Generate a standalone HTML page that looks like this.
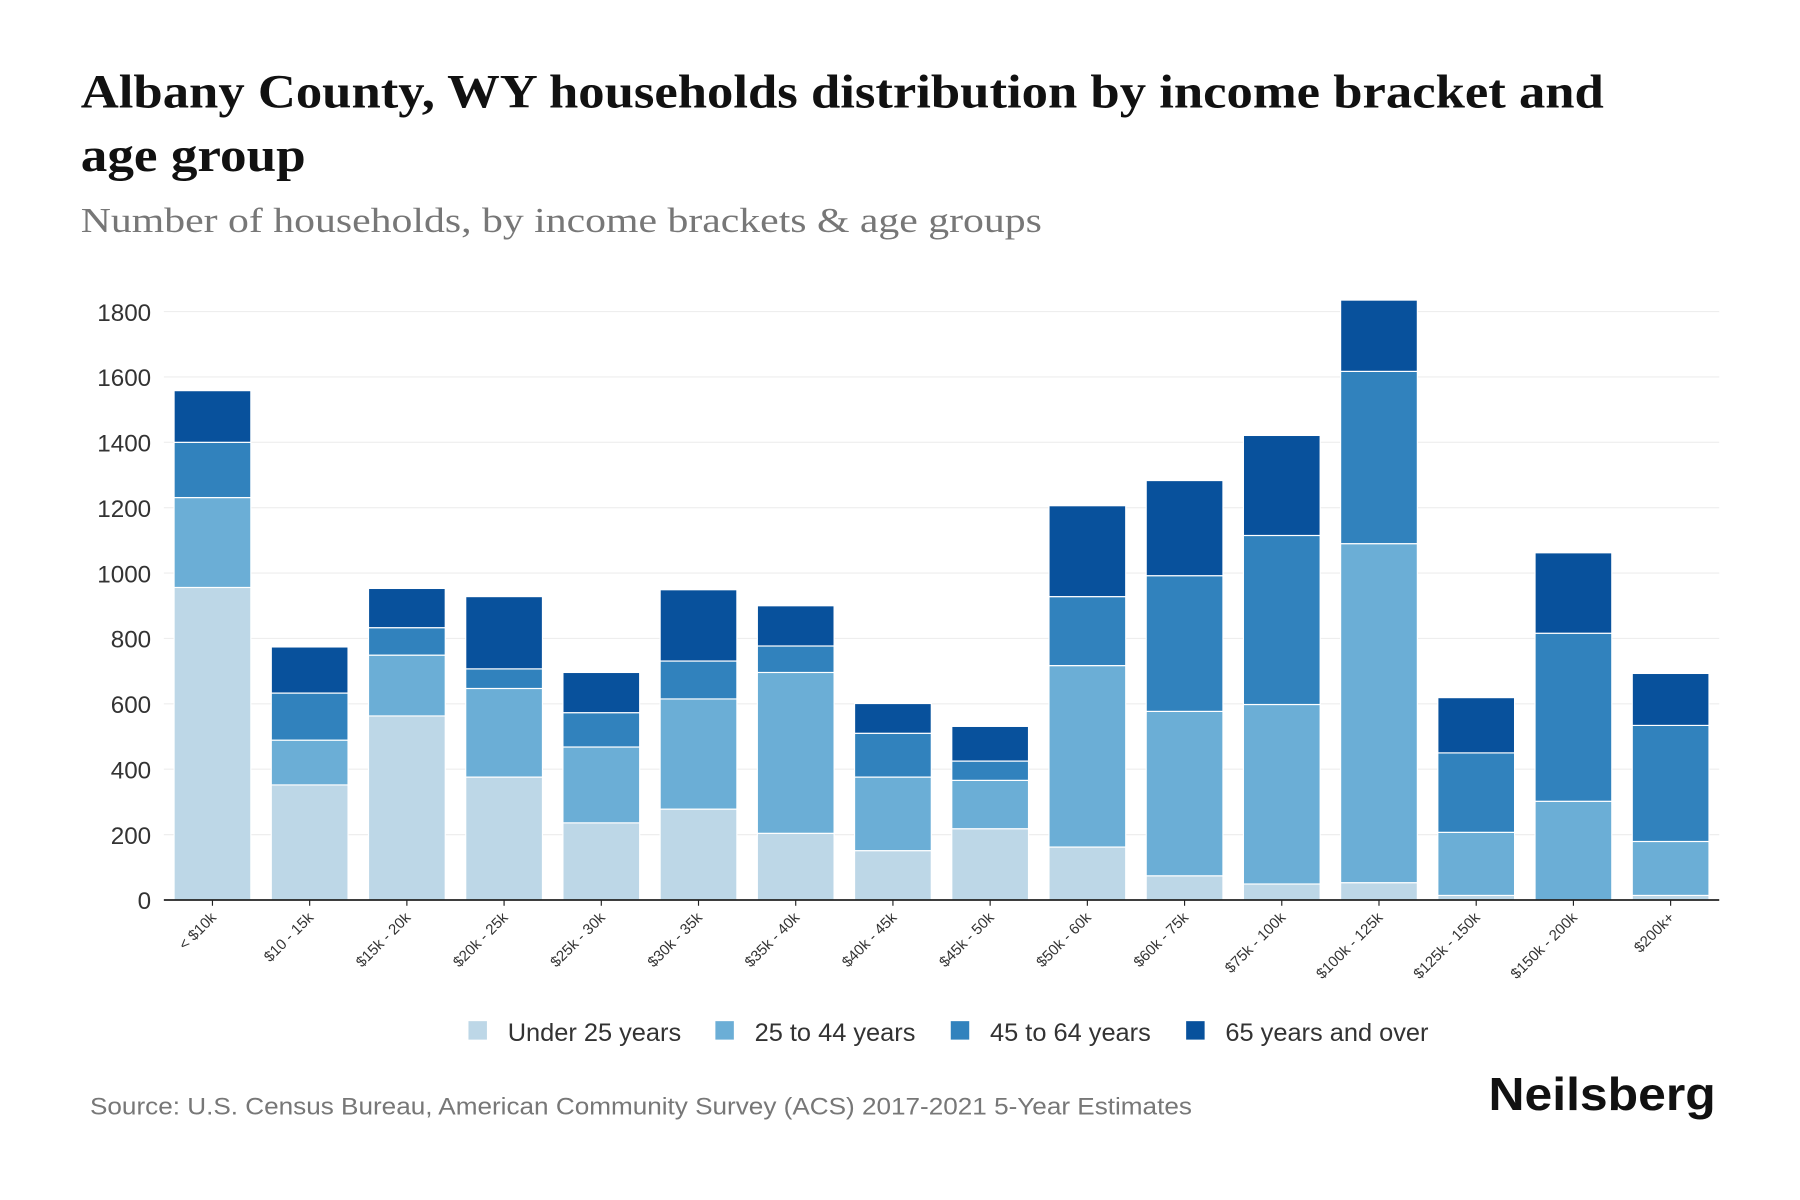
<!DOCTYPE html>
<html><head><meta charset="utf-8">
<style>
html,body{margin:0;padding:0;background:#fff;}
svg{display:block;}
</style></head>
<body>
<svg id="chart" width="1800" height="1200" viewBox="0 0 1560 1040" xmlns="http://www.w3.org/2000/svg">
  <text x="70" y="93" textLength="1320" lengthAdjust="spacingAndGlyphs" font-family="Liberation Serif, serif" font-weight="bold" font-size="41" fill="#111">Albany County, WY households distribution by income bracket and</text>
  <text x="70" y="148" textLength="195" lengthAdjust="spacingAndGlyphs" font-family="Liberation Serif, serif" font-weight="bold" font-size="41" fill="#111">age group</text>
  <text x="70" y="201" textLength="833" lengthAdjust="spacingAndGlyphs" font-family="Liberation Serif, serif" font-size="30" fill="#777">Number of households, by income brackets &amp; age groups</text>
  <g id="grid"></g>
  <g id="bars"></g>
  <g id="xlabels"></g>
  <g id="legend"></g>
  <text x="78" y="966" textLength="955" lengthAdjust="spacingAndGlyphs" font-family="Liberation Sans, sans-serif" font-size="21" fill="#777">Source: U.S. Census Bureau, American Community Survey (ACS) 2017-2021 5-Year Estimates</text>
  <text x="1290" y="962" textLength="197" lengthAdjust="spacingAndGlyphs" font-family="Liberation Sans, sans-serif" font-weight="bold" font-size="40" fill="#111">Neilsberg</text>
</svg>
<script>
const categories = ["< $10k","$10 - 15k","$15k - 20k","$20k - 25k","$25k - 30k","$30k - 35k","$35k - 40k","$40k - 45k","$45k - 50k","$50k - 60k","$60k - 75k","$75k - 100k","$100k - 125k","$125k - 150k","$150k - 200k","$200k+"];
const under25 = [956,352,563,376,236,278,204,151,218,162,74,49,53,14,0,14];
const age25to44 = [275,137,186,271,232,337,492,225,148,555,503,549,1037,193,302,165];
const age45to64 = [169,144,84,60,105,116,81,134,59,211,415,517,527,243,514,355];
const age65plus = [158,141,120,221,123,218,123,91,106,278,291,306,218,169,246,159];
const seriesNames = ["Under 25 years","25 to 44 years","45 to 64 years","65 years and over"];
const yTicks = [0,200,400,600,800,1000,1200,1400,1600,1800];

const colors = ["#bdd7e7","#6baed6","#3182bd","#08519c"];
const series = [under25, age25to44, age45to64, age65plus];
const NS = "http://www.w3.org/2000/svg";
const x0 = 142, x1 = 1490, y0 = 780, yTop = 270, yMax = 1800;
const band = (x1 - x0) / categories.length;
const barW = 66.5;
function yScale(v){ return y0 - v / yMax * (y0 - yTop); }
function xCenter(i){ return x0 + band * (i + 0.5); }
function mk(tag, attrs, parent){ const e = document.createElementNS(NS, tag); for (const k in attrs) e.setAttribute(k, attrs[k]); parent.appendChild(e); return e; }

const grid = document.getElementById('grid');
yTicks.forEach(t => {
  const y = yScale(t);
  if (t > 0) {
    const l = mk('line', {x1: x0, x2: x1, y1: y, y2: y, stroke: '#eeeeee', 'stroke-width': 1}, grid);
    
    
  }
  const tx = mk('text', {x: 131, y: y + 8, 'text-anchor': 'end', 'font-family': 'Liberation Sans, sans-serif', 'font-size': 21, fill: '#333'}, grid);
  tx.textContent = t;
  
  
});

const bars = document.getElementById('bars');
categories.forEach((c, i) => {
  let cum = 0;
  series.forEach((s, k) => {
    const v = s[i];
    const yt = yScale(cum + v), yb = yScale(cum);
    cum += v;
    if (v <= 0) return;
    const r = mk('rect', {x: xCenter(i) - barW / 2, y: yt, width: barW, height: yb - yt, fill: colors[k], stroke: '#fff', 'stroke-width': 1}, bars);
    
    
  });
});
const ax = mk('line', {x1: x0, x2: x1, y1: y0, y2: y0, stroke: '#222', 'stroke-width': 1.5}, bars);



const xl = document.getElementById('xlabels');
categories.forEach((c, i) => {
  const x = xCenter(i), y = 796;
  const t = mk('text', {x: x + 4, y: y, 'text-anchor': 'end', transform: `rotate(-45 ${x + 4} ${y})`, 'font-family': 'Liberation Sans, sans-serif', 'font-size': 13, fill: '#333'}, xl);
  t.textContent = c;
  
  
  const tk = mk('line', {x1: x, x2: x, y1: y0, y2: y0 + 5, stroke: '#222', 'stroke-width': 1}, xl);
  
  
});

const lg = document.getElementById('legend');
const lx = [406, 620, 824, 1028];
seriesNames.forEach((n, k) => {
  const r = mk('rect', {x: lx[k], y: 885, width: 16, height: 16, fill: colors[k]}, lg);
  
  
  const t = mk('text', {x: lx[k] + 34, y: 902, 'font-family': 'Liberation Sans, sans-serif', 'font-size': 22, fill: '#333'}, lg);
  t.textContent = n;
  
  
});
</script>
</body></html>
